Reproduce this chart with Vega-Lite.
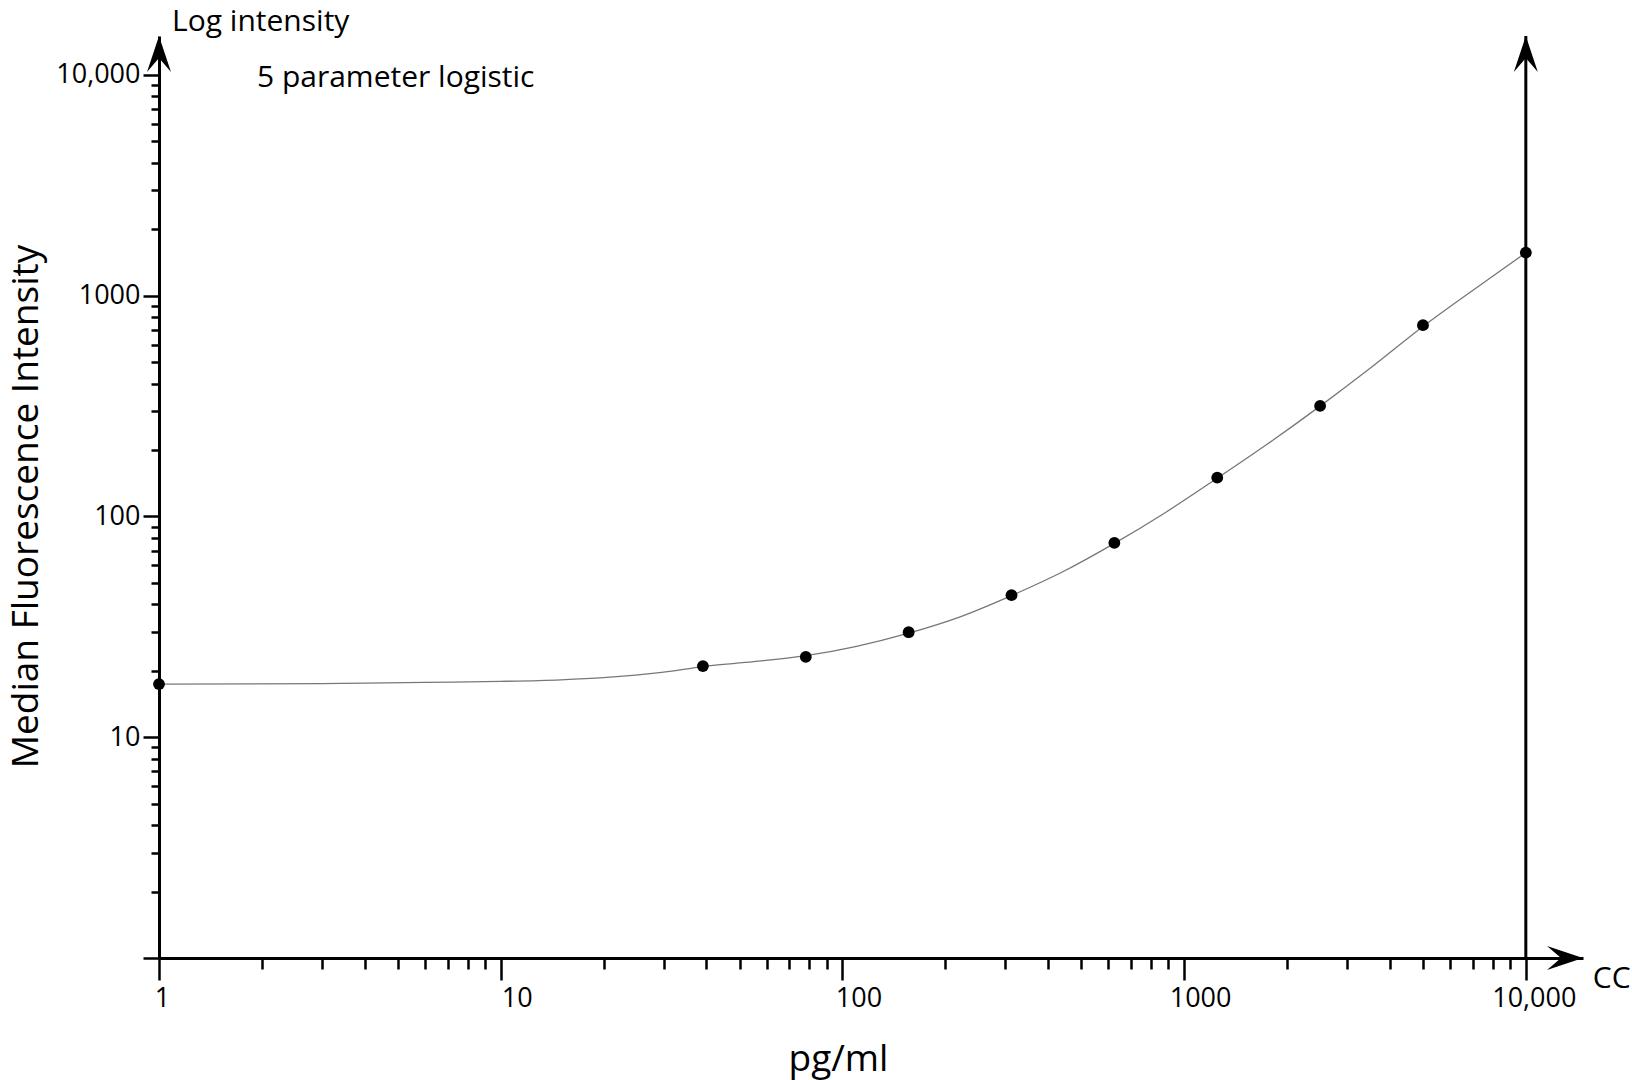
{
  "$schema": "https://vega.github.io/schema/vega-lite/v6.json",
  "autosize": {"type": "none"},
  "padding": {"left": 159, "top": 36, "right": 49, "bottom": 122},
  "width": 1424,
  "height": 922,
  "background": "white",
  "config": {
    "view": {"stroke": null},
    "font": "Open Sans",
    "axis": {"labelFont": "Open Sans", "titleFont": "Open Sans", "titleFontWeight": "normal", "labelColor": "black", "titleColor": "black"}
  },
  "datasets": {
    "curve": [
      {"x": 1, "y": 17.4}, {"x": 3, "y": 17.5}, {"x": 6, "y": 17.7}, {"x": 10, "y": 17.9},
      {"x": 15, "y": 18.2}, {"x": 20, "y": 18.6}, {"x": 30, "y": 19.7}, {"x": 39.06, "y": 20.9},
      {"x": 55, "y": 22.0}, {"x": 78.125, "y": 23.4}, {"x": 110, "y": 25.8}, {"x": 156.25, "y": 29.6},
      {"x": 220, "y": 35.0}, {"x": 312.5, "y": 43.8}, {"x": 440, "y": 56}, {"x": 625, "y": 75.5},
      {"x": 880, "y": 104}, {"x": 1250, "y": 149}, {"x": 1770, "y": 215}, {"x": 2500, "y": 316},
      {"x": 3540, "y": 475}, {"x": 5000, "y": 725}, {"x": 7070, "y": 1070}, {"x": 10000, "y": 1565}
    ],
    "points": [
      {"x": 1, "y": 17.4}, {"x": 39.06, "y": 21.0}, {"x": 78.125, "y": 23.1}, {"x": 156.25, "y": 29.9},
      {"x": 312.5, "y": 44.0}, {"x": 625, "y": 75.9}, {"x": 1250, "y": 149.9}, {"x": 2500, "y": 316.7},
      {"x": 5000, "y": 735}, {"x": 10000, "y": 1567}
    ],
    "labels": [
      {"x": 1.092, "y": 17300, "label": "Log intensity"},
      {"x": 1.935, "y": 9672, "label": "5 parameter logistic"},
      {"x": 15704, "y": 0.803, "label": "CC"}
    ]
  },
  "encoding": {
    "x": {
      "field": "x", "type": "quantitative",
      "scale": {"type": "log", "domain": [1, 14700], "nice": false},
      "axis": {
        "title": "pg/ml", "titleFontSize": 37, "titleX": 679, "titleY": 101, "titleBaseline": "middle",
        "values": [1,2,3,4,5,6,7,8,9,10,20,30,40,50,60,70,80,90,100,200,300,400,500,600,700,800,900,1000,2000,3000,4000,5000,6000,7000,8000,9000,10000],
        "labelExpr": "datum.value == 10000 ? '10,000' : indexof([1,10,100,1000], datum.value) >= 0 ? toString(datum.value) : ''",
        "labelFontSize": 27, "labelPadding": 5, "labelOverlap": false, "labelFlush": false, "labelBound": false,
        "labelOffset": {"condition": [{"test": "datum.value == 1", "value": 3}, {"test": "datum.value == 10000", "value": 8}], "value": 16},
        "tickSize": {"condition": {"test": "indexof([1,10,100,1000,10000], datum.value) >= 0", "value": 22}, "value": 11},
        "tickWidth": 2.5, "tickColor": "black", "domainColor": "black", "domainWidth": 3, "grid": false
      }
    },
    "y": {
      "field": "y", "type": "quantitative",
      "scale": {"type": "log", "domain": [1, 15000], "nice": false},
      "axis": {
        "title": "Median Fluorescence Intensity", "titleFontSize": 37, "titleX": -133, "titleY": 470, "titleBaseline": "middle", "titleAngle": -90,
        "values": [1,2,3,4,5,6,7,8,9,10,20,30,40,50,60,70,80,90,100,200,300,400,500,600,700,800,900,1000,2000,3000,4000,5000,6000,7000,8000,9000,10000],
        "labelExpr": "datum.value == 10000 ? '10,000' : indexof([10,100,1000], datum.value) >= 0 ? toString(datum.value) : ''",
        "labelFontSize": 27, "labelPadding": 3, "labelOverlap": false, "labelBound": false,
        "tickSize": {"condition": {"test": "indexof([1,10,100,1000,10000], datum.value) >= 0", "value": 16}, "value": 8},
        "tickWidth": 2.5, "tickColor": "black", "domainColor": "black", "domainWidth": 3, "grid": false
      }
    }
  },
  "layer": [
    {
      "data": {"values": [{"x": 10000, "y": 1, "y2": 15000}]},
      "mark": {"type": "rule", "color": "black", "strokeWidth": 3},
      "encoding": {"y2": {"field": "y2"}}
    },
    {
      "data": {"name": "curve"},
      "mark": {"type": "line", "color": "#777777", "strokeWidth": 1.3, "interpolate": "monotone"},
      "encoding": {}
    },
    {
      "data": {"name": "points"},
      "mark": {"type": "point", "filled": true, "color": "black", "opacity": 1, "size": 140, "shape": "circle"}
    },
    {
      "data": {"values": [{"x": 1, "y": 15000}, {"x": 10000, "y": 15000}]},
      "mark": {"type": "point", "filled": true, "color": "black", "opacity": 1, "size": 1600, "shape": "M0,0 L0.6,1.8 L0,1.1 L-0.6,1.8 Z"}
    },
    {
      "data": {"values": [{"x": 14700, "y": 1}]},
      "mark": {"type": "point", "filled": true, "color": "black", "opacity": 1, "size": 1600, "shape": "M0,0 L-1.8,0.6 L-1.1,0 L-1.8,-0.6 Z"}
    },
    {
      "data": {"name": "labels"},
      "mark": {"type": "text", "align": "left", "baseline": "middle", "fontSize": 30, "color": "black", "font": "Open Sans"},
      "encoding": {"text": {"field": "label"}}
    }
  ]
}
